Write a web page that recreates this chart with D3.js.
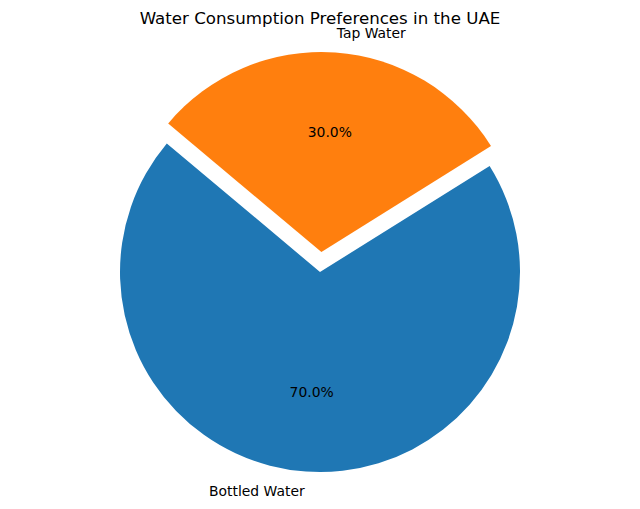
<!DOCTYPE html>
<html>
<head>
<meta charset="utf-8">
<script src="https://cdn.jsdelivr.net/npm/d3@7"></script>
<style>
  body { margin: 0; background: #fff; }
  text { font-family: "DejaVu Sans", sans-serif; fill: #000; }
</style>
</head>
<body>
<div id="chart"></div>
<script>
var categories = ["Bottled Water", "Tap Water"]
var shares = [70, 30]
var explodes = [0, 0.1]
var colors = ["#1f77b4", "#ff7f0e"]

var width = 640, height = 509
var cx = 320, cy = 272, radius = 200
var startDeg = 140   // matplotlib startangle, counterclockwise

const svg = d3.select("#chart")
    .append("svg")
    .attr("width", width)
    .attr("height", height)

var data = categories.map(function (c, i) {
    return { name: c, value: shares[i], explode: explodes[i], color: colors[i] }
})

// d3 angles run clockwise from 12 o'clock, so go backwards to mimic matplotlib
var a0 = (90 - startDeg) * Math.PI / 180
var pie = d3.pie()
    .sort(null)
    .value(function (d) { return d.value })
    .startAngle(a0)
    .endAngle(a0 - 2 * Math.PI)

var arc = d3.arc().innerRadius(0).outerRadius(radius)

var slices = pie(data)

var g = svg.append("g")
    .attr("transform", "translate(" + cx + "," + cy + ")")

function mid(d) { return (d.startAngle + d.endAngle) / 2 }
function offset(d) {
    var m = mid(d)
    return [d.data.explode * radius * Math.sin(m), -d.data.explode * radius * Math.cos(m)]
}

g.selectAll("path")
    .data(slices)
    .enter()
    .append("path")
    .attr("transform", function (d) { var o = offset(d); return "translate(" + o[0] + "," + o[1] + ")" })
    .attr("d", arc)
    .attr("fill", function (d) { return d.data.color })

// category labels at 1.1 r
g.selectAll(".lbl")
    .data(slices)
    .enter()
    .append("text")
    .attr("class", "lbl")
    .attr("x", function (d) { return offset(d)[0] + 1.1 * radius * Math.sin(mid(d)) })
    .attr("y", function (d) { return offset(d)[1] - 1.1 * radius * Math.cos(mid(d)) })
    .attr("text-anchor", function (d) { return Math.sin(mid(d)) > 0 ? "start" : "end" })
    .attr("dominant-baseline", "central")
    .style("font-size", "13.9px")
    .text(function (d) { return d.data.name })

// percentages at 0.6 r
g.selectAll(".pct")
    .data(slices)
    .enter()
    .append("text")
    .attr("class", "pct")
    .attr("x", function (d) { return offset(d)[0] + 0.6 * radius * Math.sin(mid(d)) })
    .attr("y", function (d) { return offset(d)[1] - 0.6 * radius * Math.cos(mid(d)) })
    .attr("text-anchor", "middle")
    .attr("dominant-baseline", "central")
    .style("font-size", "13.9px")
    .text(function (d) { return d.data.value.toFixed(1) + "%" })

// title
svg.append("text")
    .attr("x", width / 2)
    .attr("y", 24)
    .attr("text-anchor", "middle")
    .style("font-size", "16.67px")
    .text("Water Consumption Preferences in the UAE")
</script>
</body>
</html>
